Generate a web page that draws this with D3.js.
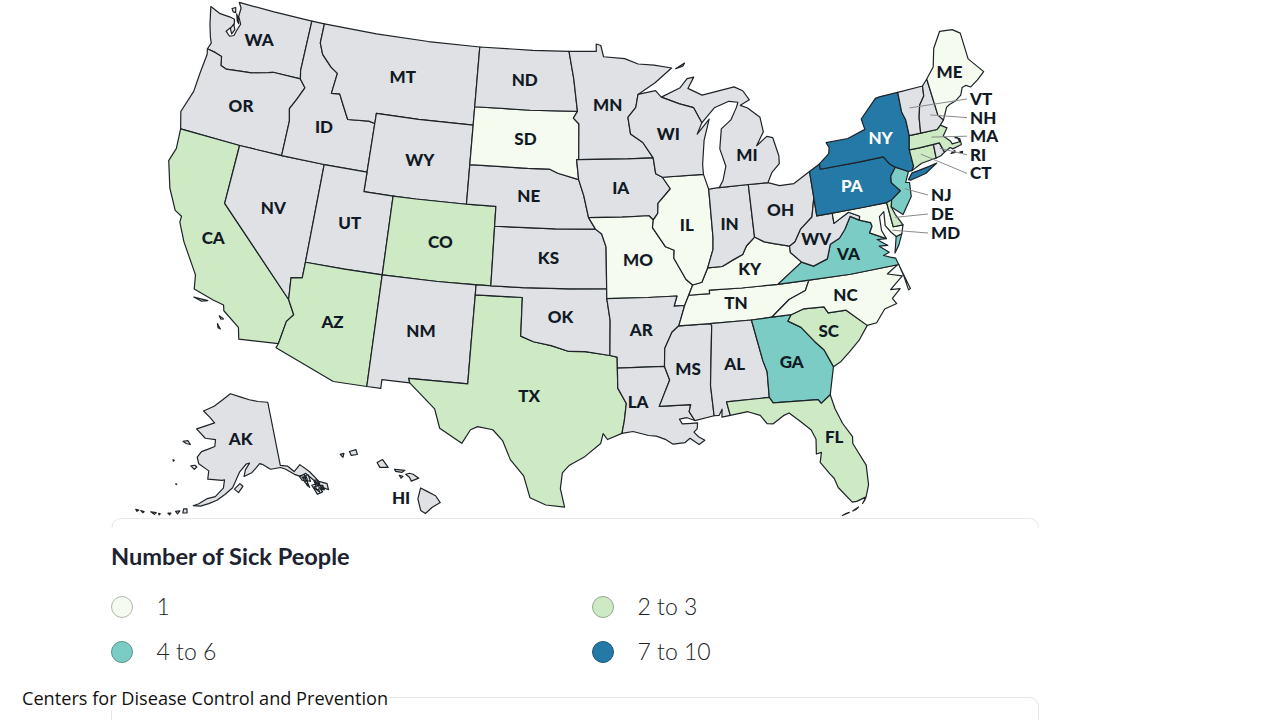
<!DOCTYPE html>
<html>
<head>
<meta charset="utf-8">
<style>
  html, body { margin: 0; padding: 0; background: #fff; overflow: hidden; }
</style>
<script src="https://unpkg.com/d3@7/dist/d3.min.js"></script>
</head>
<body>
<svg id="chart" width="1280" height="720"></svg>
<script>
// sick people per state, states missing from here have no cases
const count1 = ["ME", "SD", "MO", "IL", "KY", "TN", "NC", "MD"];
const count2to3 = ["CA", "AZ", "CO", "TX", "FL", "SC", "MA", "CT", "DE"];
const count4to6 = ["VA", "GA", "NJ"];
const count7to10 = ["NY", "PA"];

const legendLabels = ["1", "2 to 3", "4 to 6", "7 to 10"];
const legendColors = ["#f5fbef", "#cdeac5", "#7bccc4", "#2479a6"];
const noDataColor = "#dfe1e4";

// state outlines, lon/lat rings
const WA = [[[-122.75,49],[-120,49],[-117.03,49],[-117.04,46.42],[-116.92,45.99],[-118.98,46],[-119.3,45.93],[-120.5,45.7],[-121.2,45.65],[-122.33,45.55],[-122.76,45.65],[-122.9,46.1],[-123.4,46.2],[-124.05,46.27],[-123.9,46.6],[-124.1,46.9],[-124.4,47.5],[-124.73,48.38],[-123.9,48.17],[-123.1,48.15],[-122.75,48.1],[-122.65,47.85],[-123.1,47.4],[-122.75,47.2],[-122.45,47.3],[-122.35,47.6],[-122.2,47.95],[-122.5,48.3],[-122.5,48.75]],
  [[-122.7,48.4],[-122.5,48.05],[-122.35,47.95],[-122.55,48.25]],[[-123.15,48.6],[-122.9,48.7],[-122.8,48.45],[-123,48.45]],[[-122.7,47.85],[-122.5,47.6],[-122.65,47.35],[-122.85,47.6]]];
const OR = [[[-124.05,46.27],[-123.4,46.2],[-122.9,46.1],[-122.76,45.65],[-122.33,45.55],[-121.2,45.65],[-120.5,45.7],[-119.3,45.93],[-118.98,46],[-116.92,45.99],[-116.46,45.6],[-116.85,44.95],[-117.22,44.4],[-117.03,43.8],[-117.03,42],[-120,42],[-124.21,42],[-124.55,42.84],[-124.1,44],[-124.05,45],[-123.95,46]]];
const CA = [[[-124.21,42],[-120,42],[-120,39],[-114.63,35],[-114.14,34.3],[-114.5,33.9],[-114.72,32.72],[-117.12,32.53],[-117.3,33.1],[-118.4,33.75],[-118.5,34.03],[-119.2,34.15],[-120.5,34.45],[-120.65,35.15],[-121.9,36.6],[-122.5,37.5],[-122.5,37.8],[-123,38],[-123.75,39],[-124.35,40.3],[-124.1,41]],
  [[-120.4,34.05],[-119.5,34.05],[-119.9,33.95]],[[-118.6,33.45],[-118.3,33.35],[-118.45,33.3]],[[-118.6,33.05],[-118.35,32.82],[-118.5,32.85]]];
const NV = [[[-120,42],[-117.03,42],[-114.04,42],[-114.04,37],[-114.05,36.2],[-114.75,36.1],[-114.63,35],[-120,39]]];
const ID = [[[-117.03,49],[-116.05,49],[-116.05,48],[-115.7,47.45],[-114.9,46.9],[-114.35,46.65],[-114.5,45.6],[-113.9,45.65],[-113.45,45.05],[-113,44.45],[-111.5,44.55],[-111.05,44.48],[-111.05,42],[-114.04,42],[-117.03,42],[-117.03,43.8],[-117.22,44.4],[-116.85,44.95],[-116.46,45.6],[-116.92,45.99],[-117.04,46.42]]];
const MT = [[[-116.05,49],[-112,49],[-108,49],[-104.05,49],[-104.05,45.94],[-104.05,45],[-108,45],[-111.05,45],[-111.05,44.48],[-111.5,44.55],[-113,44.45],[-113.45,45.05],[-113.9,45.65],[-114.5,45.6],[-114.35,46.65],[-114.9,46.9],[-115.7,47.45],[-116.05,48]]];
const WY = [[[-111.05,45],[-108,45],[-104.05,45],[-104.05,43],[-104.05,41],[-107.5,41],[-109.05,41],[-111.05,41],[-111.05,42],[-111.05,44.48]]];
const UT = [[[-114.04,42],[-111.05,42],[-111.05,41],[-109.05,41],[-109.05,37],[-111.5,37],[-114.04,37]]];
const CO = [[[-109.05,41],[-107.5,41],[-104.05,41],[-102.05,41],[-102.05,40],[-102.05,37],[-105.5,37],[-109.05,37]]];
const AZ = [[[-114.04,37],[-111.5,37],[-109.05,37],[-109.05,31.33],[-111.07,31.33],[-114.81,32.5],[-114.72,32.72],[-114.5,33.9],[-114.14,34.3],[-114.63,35],[-114.75,36.1],[-114.05,36.2]]];
const NM = [[[-109.05,37],[-105.5,37],[-103,37],[-103,36.5],[-103.04,34],[-103.06,32],[-106.62,32],[-106.53,31.78],[-108.21,31.78],[-108.21,31.33],[-109.05,31.33]]];
const TX = [[[-103,36.5],[-100,36.5],[-100,34.56],[-99.2,34.3],[-98.1,34.13],[-97,33.85],[-96,33.85],[-94.48,33.64],[-94.04,33.55],[-94.04,33],[-94.04,31.99],[-93.55,31.2],[-93.7,30.3],[-93.85,29.7],[-94.7,29.4],[-94.95,29.7],[-95.1,29.2],[-96,28.55],[-96.9,28.1],[-97.3,27.7],[-97.4,26.9],[-97.15,25.96],[-98.2,26.05],[-99.1,26.4],[-99.5,27.5],[-100.3,28.3],[-100.8,29.25],[-101.4,29.77],[-102.3,29.88],[-102.7,29.7],[-103.15,28.98],[-104.5,29.65],[-104.9,30.6],[-106.53,31.78],[-106.62,32],[-103.06,32],[-103.04,34]]];
const OK = [[[-103,37],[-100,37],[-97,37],[-94.62,37],[-94.62,36.5],[-94.43,35.4],[-94.48,33.64],[-96,33.85],[-97,33.85],[-98.1,34.13],[-99.2,34.3],[-100,34.56],[-100,36.5],[-103,36.5]]];
const KS = [[[-102.05,40],[-98,40],[-95.31,40],[-94.9,39.75],[-94.62,39.1],[-94.62,37],[-97,37],[-100,37],[-102.05,37]]];
const NE = [[[-104.05,43],[-100,43],[-98.5,43],[-97.9,42.8],[-96.45,42.49],[-96.1,41.7],[-95.77,40.58],[-95.31,40],[-98,40],[-102.05,40],[-102.05,41],[-104.05,41]]];
const SD = [[[-104.05,45.94],[-100,45.94],[-96.56,45.94],[-96.85,45.6],[-96.45,45.3],[-96.45,43.5],[-96.6,43.5],[-96.45,42.49],[-97.9,42.8],[-98.5,43],[-100,43],[-104.05,43],[-104.05,45]]];
const ND = [[[-104.05,49],[-100,49],[-97.23,49],[-96.85,47.6],[-96.56,45.94],[-100,45.94],[-104.05,45.94]]];
const MN = [[[-97.23,49],[-95.15,49],[-95.15,49.38],[-94.8,49.3],[-94.6,48.72],[-93,48.6],[-92,48.3],[-90.8,48.2],[-89.5,48],[-90.8,47.3],[-92.1,46.75],[-92.3,46.1],[-92.9,45.6],[-92.75,44.75],[-91.9,44.3],[-91.22,43.5],[-93,43.5],[-96.45,43.5],[-96.45,45.3],[-96.85,45.6],[-96.56,45.94],[-96.85,47.6]]];
const IA = [[[-96.45,43.5],[-93,43.5],[-91.22,43.5],[-91.1,42.7],[-90.65,42.5],[-90.15,41.9],[-91.05,41.2],[-91.1,40.7],[-91.42,40.38],[-91.7,40.6],[-93.5,40.58],[-95.77,40.58],[-96.1,41.7],[-96.45,42.49],[-96.6,43.5]]];
const MO = [[[-95.77,40.58],[-93.5,40.58],[-91.7,40.6],[-91.42,40.38],[-91.5,40],[-90.7,39],[-90.15,38.8],[-90.2,38.4],[-89.5,37.3],[-89.1,37],[-89.4,36.5],[-89.7,36],[-90.37,36],[-90.15,36.5],[-92,36.5],[-94.62,36.5],[-94.62,37],[-94.62,39.1],[-94.9,39.75],[-95.31,40]]];
const AR = [[[-94.62,36.5],[-92,36.5],[-90.15,36.5],[-90.37,36],[-89.7,36],[-90.15,35],[-90.6,34.7],[-91.1,33.9],[-91.17,33],[-94.04,33],[-94.04,33.55],[-94.48,33.64],[-94.43,35.4]]];
const LA = [[[-94.04,33],[-91.17,33],[-90.9,32.3],[-91.6,31],[-89.73,31],[-89.85,30.65],[-89.55,30.18],[-90,30.35],[-90.45,30.3],[-90.3,30.05],[-89.75,30.05],[-89.4,30.05],[-89.45,29.75],[-89.65,29.6],[-89.4,29.35],[-89.05,29.15],[-89.4,28.95],[-89.9,29.3],[-90.2,29.1],[-90.9,29.05],[-91.3,29.3],[-91.85,29.5],[-92.3,29.55],[-93.2,29.78],[-93.85,29.7],[-93.7,30.3],[-93.55,31.2],[-94.04,31.99]]];
const MS = [[[-91.17,33],[-91.1,33.9],[-90.6,34.7],[-90.15,35],[-88.2,35],[-88.1,34.9],[-88.47,31.9],[-88.4,30.35],[-89.55,30.18],[-89.85,30.65],[-89.73,31],[-91.6,31],[-90.9,32.3]]];
const TN = [[[-89.4,36.5],[-88.07,36.5],[-88.07,36.68],[-86,36.63],[-83.68,36.6],[-81.68,36.59],[-82,36.1],[-83.1,35.77],[-84.32,35],[-85.6,34.98],[-88.2,35],[-90.15,35],[-89.7,36]]];
const KY = [[[-89.4,36.5],[-89.1,37],[-88.5,37.1],[-88.05,37.8],[-87.1,37.8],[-86.3,38.1],[-85.7,38.3],[-85.4,38.7],[-84.8,39.1],[-84.2,38.8],[-83.6,38.65],[-82.6,38.42],[-82.6,38.1],[-81.97,37.54],[-83.68,36.6],[-86,36.63],[-88.07,36.68],[-88.07,36.5]]];
const IL = [[[-90.65,42.5],[-87.8,42.5],[-87.53,41.72],[-87.53,39.3],[-87.6,38.7],[-88.05,37.8],[-88.5,37.1],[-89.1,37],[-89.5,37.3],[-90.2,38.4],[-90.15,38.8],[-90.7,39],[-91.5,40],[-91.42,40.38],[-91.1,40.7],[-91.05,41.2],[-90.15,41.9]]];
const IN = [[[-87.53,41.72],[-87.2,41.75],[-86.8,41.76],[-84.8,41.76],[-84.8,39.1],[-85.4,38.7],[-85.7,38.3],[-86.3,38.1],[-87.1,37.8],[-88.05,37.8],[-87.6,38.7],[-87.53,39.3]]];
const OH = [[[-84.8,41.76],[-83.45,41.73],[-82.7,41.5],[-81.7,41.5],[-80.52,41.98],[-80.52,40.64],[-80.85,39.7],[-81.7,39.2],[-82.2,38.6],[-82.6,38.42],[-83.6,38.65],[-84.2,38.8],[-84.8,39.1]]];
const MI = [[[-86.8,41.76],[-84.8,41.76],[-83.45,41.73],[-83.1,42.2],[-82.5,42.6],[-82.45,43],[-82.7,43.95],[-83.1,44.05],[-83.9,43.65],[-83.3,44.3],[-83.4,45.05],[-84.2,45.6],[-84.7,45.78],[-84,46],[-84.4,46.5],[-85,46.75],[-87.4,46.5],[-88.4,46.9],[-87.9,47.45],[-88.4,47.4],[-89,46.95],[-90.4,46.55],[-89.1,46.15],[-88.1,45.9],[-87.6,45.1],[-86.6,45.8],[-85.5,46.05],[-84.85,45.95],[-85,45.7],[-85.5,45.1],[-86.25,44.7],[-86.5,43.7],[-86.2,42.8],[-86.5,42.1]],
  [[-89.2,47.95],[-88.5,48.2],[-88.65,48.05]]];
const WI = [[[-92.1,46.75],[-90.8,46.9],[-90.4,46.55],[-89.1,46.15],[-88.1,45.9],[-87.6,45.1],[-88,44.55],[-87.05,45.25],[-87.55,44.2],[-87.8,43],[-87.8,42.5],[-90.65,42.5],[-91.1,42.7],[-91.22,43.5],[-91.9,44.3],[-92.75,44.75],[-92.9,45.6],[-92.3,46.1]]];
const AL = [[[-88.2,35],[-85.6,34.98],[-85.18,32.87],[-85,32.3],[-85.05,31],[-87.6,31],[-87.45,30.3],[-87.95,30.25],[-87.9,30.65],[-88.1,30.35],[-88.4,30.35],[-88.47,31.9],[-88.1,34.9]]];
const GA = [[[-85.6,34.98],[-84.32,35],[-83.1,35],[-83.35,34.7],[-82.6,34.3],[-81.9,33.5],[-81.4,33],[-81,32.1],[-81.2,31.5],[-81.45,30.72],[-82.05,30.36],[-82.2,30.57],[-84.86,30.7],[-85.05,31],[-85,32.3],[-85.18,32.87]]];
const FL = [[[-87.6,31],[-85.05,31],[-84.86,30.7],[-82.2,30.57],[-82.05,30.36],[-81.45,30.72],[-81.3,30],[-81,29.2],[-80.55,28.45],[-80.6,28.1],[-80.05,26.9],[-80.1,25.9],[-80.35,25.3],[-80.9,25.15],[-81.15,25.15],[-81.8,26],[-81.95,26.5],[-82.15,26.75],[-82.6,27.4],[-82.45,27.9],[-82.75,27.85],[-82.65,28.6],[-82.85,29.1],[-83.4,29.6],[-84,30.1],[-84.35,30],[-85,29.65],[-85.35,29.7],[-85.7,30.15],[-86.4,30.4],[-87.45,30.3]],
  [[-80.35,25.3],[-80.6,25],[-80.45,25.15]],[[-80.85,24.85],[-81.2,24.7],[-81,24.75]],[[-81.4,24.65],[-81.8,24.55],[-81.6,24.62]]];
const SC = [[[-83.1,35],[-82.3,35.2],[-81,35.15],[-80.8,34.82],[-79.67,34.8],[-78.55,33.86],[-79.2,33.2],[-79.9,32.7],[-80.5,32.3],[-81,32.1],[-81.4,33],[-81.9,33.5],[-82.6,34.3],[-83.35,34.7]]];
const NC = [[[-84.32,35],[-83.1,35.77],[-82,36.1],[-81.68,36.59],[-79,36.54],[-75.95,36.55],[-76.7,36.2],[-75.8,35.95],[-76.7,35.4],[-76.1,35.35],[-76.7,34.95],[-76.5,34.65],[-77.3,34.5],[-77.95,33.9],[-78.55,33.86],[-79.67,34.8],[-80.8,34.82],[-81,35.15],[-82.3,35.2],[-83.1,35]],
  [[-75.87,36.55],[-75.47,35.25],[-75.6,35.2],[-75.7,35.9]]];
const VA = [[[-83.68,36.6],[-81.97,37.54],[-81.25,37.25],[-80.3,37.5],[-79.95,38.2],[-79.3,38.42],[-78.85,38.8],[-78.35,39.4],[-77.8,39.13],[-77.1,38.9],[-77.05,38.7],[-77.3,38.4],[-76.3,37.95],[-76.9,38],[-76.3,37.6],[-76.85,37.65],[-76.3,37.25],[-76.7,37.15],[-76.3,37],[-75.98,36.9],[-75.87,36.55],[-79,36.54],[-81.68,36.59]],
  [[-75.95,37.15],[-75.65,37.95],[-75.25,38.03],[-75.6,37.5]]];
const WV = [[[-82.6,38.42],[-82.2,38.6],[-81.7,39.2],[-80.85,39.7],[-80.52,40.64],[-80.52,39.72],[-79.48,39.72],[-79.48,39.2],[-78.4,39.62],[-77.72,39.32],[-77.8,39.13],[-78.35,39.4],[-78.85,38.8],[-79.3,38.42],[-79.95,38.2],[-80.3,37.5],[-81.25,37.25],[-81.97,37.54],[-82.6,38.1]]];
const MD = [[[-79.48,39.72],[-75.79,39.72],[-75.7,38.46],[-75.05,38.45],[-75.25,38.03],[-75.65,37.95],[-75.9,38.2],[-76.2,38.6],[-76.1,39.3],[-76.45,39.1],[-76.5,38.4],[-76.3,37.95],[-77.3,38.4],[-77.05,38.7],[-77.1,38.9],[-77.8,39.13],[-77.72,39.32],[-78.4,39.62],[-79.48,39.2]]];
const DE = [[[-75.79,39.72],[-75.42,39.8],[-75.55,39.45],[-75.4,39.05],[-75.05,38.45],[-75.7,38.46]]];
const PA = [[[-80.52,41.98],[-79.76,42.27],[-79.76,42],[-77,42],[-75.35,42],[-75.05,41.6],[-74.7,41.36],[-75.13,40.98],[-75.2,40.65],[-74.72,40.15],[-75.42,39.8],[-75.79,39.72],[-77.5,39.72],[-79.48,39.72],[-80.52,39.72],[-80.52,40.64]]];
const NJ = [[[-74.7,41.36],[-73.9,41],[-74.25,40.5],[-74,40.45],[-74.1,39.75],[-74.9,38.95],[-75.55,39.45],[-75.42,39.8],[-74.72,40.15],[-75.2,40.65],[-75.13,40.98]]];
const NY = [[[-79.76,42.27],[-79,42.7],[-78.9,43],[-79.05,43.27],[-77.5,43.27],[-76.2,43.55],[-76.3,44.1],[-75,44.97],[-74.7,45],[-73.34,45.01],[-73.4,44],[-73.25,43.55],[-73.27,42.75],[-73.5,42.05],[-73.48,41.2],[-73.65,41],[-73.9,41],[-74.7,41.36],[-75.05,41.6],[-75.35,42],[-77,42],[-79.76,42]],
  [[-74.03,40.6],[-73.7,40.88],[-72.5,41],[-71.9,41.07],[-72.8,40.7],[-73.9,40.55]]];
const CT = [[[-73.5,42.05],[-72.8,42.03],[-71.8,42.02],[-71.85,41.32],[-72.9,41.25],[-73.65,41],[-73.48,41.2]]];
const RI = [[[-71.8,42.02],[-71.38,42.02],[-71.2,41.5],[-71.5,41.37],[-71.85,41.32]]];
const MA = [[[-73.27,42.75],[-72.46,42.73],[-71.3,42.7],[-71,42.87],[-70.6,42.65],[-71,42.3],[-70.6,41.95],[-70.55,41.8],[-70,41.8],[-70.1,42.05],[-70.25,42.07],[-69.95,41.95],[-69.95,41.65],[-70.6,41.55],[-70.75,41.65],[-71.2,41.5],[-71.38,42.02],[-71.8,42.02],[-72.8,42.03],[-73.5,42.05]],
  [[-70.8,41.35],[-70.5,41.45],[-70.5,41.35]],[[-70.2,41.3],[-70,41.3],[-70.05,41.22]]];
const VT = [[[-73.34,45.01],[-71.5,45.01],[-71.6,44.5],[-72.05,44.1],[-72.3,43.5],[-72.46,42.73],[-73.27,42.75],[-73.25,43.55],[-73.4,44]]];
const NH = [[[-71.5,45.01],[-71.08,45.3],[-70.98,43.4],[-70.7,43.07],[-71,42.87],[-71.3,42.7],[-72.46,42.73],[-72.3,43.5],[-72.05,44.1],[-71.6,44.5]]];
const ME = [[[-71.08,45.3],[-70.4,45.8],[-70,46.7],[-69.23,47.46],[-68.3,47.36],[-67.8,47.07],[-67.8,45.7],[-67,44.85],[-67.6,44.55],[-68.2,44.3],[-68.5,44.45],[-68.8,44.4],[-69.05,44.05],[-69.5,43.85],[-70,43.75],[-70.25,43.65],[-70.7,43.07],[-70.98,43.4]]];
const AK = [[[-141,69.65],[-145,70],[-148.5,70.4],[-152,70.85],[-156.6,71.35],[-160,70.3],[-163,69.3],[-166.8,68.35],[-164,67.6],[-162,66.9],[-164,66.5],[-168,65.6],[-164.5,64.5],[-161,64.5],[-161,63.5],[-163,63],[-165,62.5],[-166,61.6],[-165.2,60.7],[-162,59.9],[-162,58.7],[-158,58.7],[-157.3,58.8],[-157.5,57.6],[-159.5,56.3],[-161.5,55.9],[-163.5,55],[-164.8,54.6],[-163,54.7],[-161,55.2],[-159,55.8],[-157,56.7],[-155,57.7],[-154,58.9],[-153,60],[-151,61.1],[-150,61.2],[-151.3,60.3],[-151.8,59.3],[-149.5,59.8],[-148,60.5],[-147,61],[-146,60.8],[-144,60],[-141,60],[-139.7,59.6],[-137.6,58.6],[-136.2,58.1],[-134.5,58.3],[-133,57],[-131.8,55.8],[-130.2,55],[-130,55.9],[-131.8,56.6],[-133.4,58.4],[-135.4,59.75],[-137.5,59],[-139,60],[-141,60.3]],
  [[-167.4,60.2],[-166.2,60.4],[-165.6,60.2],[-166.2,59.8]],[[-171.5,63.4],[-170,63.65],[-168.9,63.2],[-170.3,63.2]],[[-172.9,60.45],[-172.5,60.4],[-172.7,60.25]],[[-170.4,57.2],[-170.1,57.2],[-170.2,57.1]],[[-154.5,57.5],[-153,58.3],[-152.2,57.9],[-153.4,57]],
  [[-136.5,58.2],[-135,58.2],[-135,57.2],[-136,57.5]],[[-135.8,57.9],[-135.3,57.9],[-135.4,57.5]],[[-134.7,58],[-134,58],[-133.9,57],[-134.6,57.2]],[[-135.5,57.2],[-134.8,57.2],[-134.6,56.2]],[[-135.2,56.9],[-134.95,56.8],[-135,56.5]],[[-133.9,56.4],[-132.6,56.4],[-131.8,55],[-133.2,54.9]],[[-133.6,56],[-133.1,56.1],[-133,55.5]],[[-133,55.5],[-132.5,55.6],[-132.5,55.1]],[[-133,57],[-132.1,56.9],[-132.1,56],[-132.9,56.1]],[[-132.9,56.7],[-132.5,56.7],[-132.5,56.3]],[[-132.2,56.5],[-131.8,56.4],[-131.9,56.1]],[[-131.8,56],[-131.2,55.9],[-131.2,55.2],[-131.9,55.4]],[[-131.7,55.7],[-131.4,55.7],[-131.5,55.4]],
  [[-167,53.9],[-166.2,54],[-166,53.4],[-167,53.3]],[[-168.8,53.3],[-167.8,53.5],[-168.2,53]],[[-170.5,52.8],[-169.8,52.9],[-170,52.6]],[[-172.6,52.4],[-172.2,52.4],[-172.4,52.2]],[[-174.5,52.3],[-173.2,52.4],[-173.5,52.1]],[[-176.8,52],[-176,52],[-176.2,51.8]],[[-178,51.9],[-177.3,51.95],[-177.6,51.7]]];
const HI = [[[-155.9,20.25],[-155.6,20.1],[-155.1,19.85],[-154.85,19.5],[-155.3,19.25],[-155.65,18.95],[-155.9,19.1],[-156.05,19.7]],[[-156.7,20.95],[-156.5,21],[-156.3,20.95],[-156,20.75],[-156.4,20.6],[-156.5,20.8]],[[-157.3,21.2],[-156.75,21.15],[-156.9,21.05],[-157.25,21.1]],[[-157.05,20.9],[-156.85,20.85],[-156.95,20.75]],[[-158.25,21.55],[-157.95,21.7],[-157.65,21.3],[-158.1,21.3]],[[-159.75,22.1],[-159.4,22.2],[-159.32,21.95],[-159.65,21.9]],[[-160.25,21.95],[-160.05,22],[-160.1,21.8]]];

const outlines = { WA, OR, CA, NV, ID, MT, WY, UT, CO, AZ, NM, TX, OK, KS, NE, SD, ND, MN, IA, MO, AR, LA, MS, TN, KY, IL, IN, OH, MI, WI, AL, GA, FL, SC, NC, VA, WV, MD, DE, PA, NJ, NY, CT, RI, MA, VT, NH, ME, AK, HI };

// label spots inside the states
const labelSpots = {
  WA: [-120.55,47.4], OR: [-120.6,43.95], CA: [-120.15,37.15], NV: [-116.8,39.35], ID: [-114.55,43.85], MT: [-109.55,47.05],
  WY: [-107.55,42.95], UT: [-111.65,39.35], CO: [-105.55,39.0], AZ: [-111.7,34.3], NM: [-106.2,34.45], ND: [-100.5,47.45],
  SD: [-100.25,44.45], NE: [-99.85,41.6], KS: [-98.4,38.5], OK: [-97.55,35.6], TX: [-99.35,31.55], MN: [-94.35,46.25],
  IA: [-93.55,42.05], MO: [-92.55,38.4], AR: [-92.5,34.9], LA: [-92.85,31.25], MS: [-89.75,32.8], AL: [-86.9,32.85],
  TN: [-86.45,35.9], KY: [-85.35,37.55], IL: [-89.2,40.0], IN: [-86.35,39.9], OH: [-82.85,40.3], MI: [-84.65,43.25],
  WI: [-90.05,44.65], GA: [-83.45,32.65], FL: [-81.6,28.55], SC: [-80.95,33.9], NC: [-79.55,35.55], VA: [-78.9,37.55],
  WV: [-80.8,38.55], PA: [-77.85,40.9], NY: [-75.25,42.95], ME: [-69.35,45.35], AK: [-152.5,64.7], HI: [-156.95,19.75]
};

// small states labelled outside the map, with the spot the leader line ends at
const calloutsRight = ["VT", "NH", "MA", "RI", "CT"];
const calloutsLower = ["NJ", "DE", "MD"];
const calloutEnds = {
  VT: [-72.8,44.1], NH: [-71.5,43.5], MA: [-71.8,42.4], RI: [-71.45,41.75], CT: [-72.8,41.7],
  NJ: [-74.4,40.2], DE: [-75.45,38.9], MD: [-75.8,38.3]
};

const colorOf = {};
[count1, count2to3, count4to6, count7to10].forEach((group, i) => group.forEach(s => colorOf[s] = legendColors[i]));

const projection = d3.geoAlbersUsa().scale(1130).translate([576, 255]);
const path = d3.geoPath(projection);

// rings can be in either winding, flip any that would cover the globe
function toFeature(id) {
  const polys = outlines[id].map(r => {
    const ring = r.concat([r[0]]);
    return d3.geoArea({ type: "Polygon", coordinates: [ring] }) > 2 * Math.PI ? [ring.slice().reverse()] : [ring];
  });
  return { type: "Feature", id, geometry: { type: "MultiPolygon", coordinates: polys } };
}

const svg = d3.select("#chart");

// upper card only shows its top edge and corners, the lower one keeps its sides
const cardTop = d3.path();
cardTop.moveTo(112, 528);
cardTop.arcTo(112, 518.5, 122, 518.5, 9);
cardTop.lineTo(1028, 518.5);
cardTop.arcTo(1038.5, 518.5, 1038.5, 528, 9);
svg.append("path").attr("d", cardTop.toString()).attr("fill", "none").attr("stroke", "#e8e8e8");
svg.append("rect").attr("x", 111.5).attr("y", 697.5).attr("width", 927).attr("height", 100).attr("rx", 9)
  .attr("fill", "#fff").attr("stroke", "#e6e6e6");

svg.append("g")
  .selectAll("path")
  .data(Object.keys(outlines).map(toFeature))
  .join("path")
  .attr("d", path)
  .attr("fill", d => colorOf[d.id] || noDataColor)
  .attr("stroke", "#1d2327")
  .attr("stroke-width", 1.2)
  .attr("stroke-linejoin", "round");

const callouts = calloutsRight.map((id, i) => ({ id, x: 970, y: 99 + i * 18.6 }))
  .concat(calloutsLower.map((id, i) => ({ id, x: 931, y: 195 + i * 19 })));

svg.append("g")
  .selectAll("line")
  .data(callouts)
  .join("line")
  .attr("x1", d => d.x - 3)
  .attr("y1", d => d.y)
  .attr("x2", d => projection(calloutEnds[d.id])[0])
  .attr("y2", d => projection(calloutEnds[d.id])[1])
  .attr("stroke", "#8a8a8a")
  .attr("stroke-width", 1);

function stateLabel(sel) {
  sel.attr("font-family", "Lato, 'Noto Sans', sans-serif")
    .attr("font-size", 17)
    .attr("font-weight", 900)
    .attr("dy", "0.35em")
    .text(d => d.id);
}

svg.append("g")
  .selectAll("text")
  .data(Object.keys(labelSpots).map(id => ({ id, p: projection(labelSpots[id]) || [401, 497] })))
  .join("text")
  .attr("x", d => d.p[0])
  .attr("y", d => d.p[1])
  .attr("text-anchor", "middle")
  .attr("fill", d => count7to10.includes(d.id) ? "#fff" : "#111a24")
  .call(stateLabel);

svg.append("g")
  .selectAll("text")
  .data(callouts)
  .join("text")
  .attr("x", d => d.x)
  .attr("y", d => d.y)
  .attr("fill", "#111a24")
  .call(stateLabel);

// legend
svg.append("text")
  .attr("x", 111).attr("y", 565)
  .attr("font-family", "Lato, sans-serif")
  .attr("font-size", 23.6)
  .attr("font-weight", 700)
  .attr("fill", "#1c2230")
  .text("Number of Sick People");

const legendX = d3.scalePoint().domain([0, 1]).range([122, 603]);
const legendY = d3.scalePoint().domain([0, 1]).range([607, 652]);

const legendItems = svg.append("g")
  .selectAll("g")
  .data(legendLabels)
  .join("g")
  .attr("transform", (d, i) => `translate(${legendX(i % 2)},${legendY(i >> 1)})`);

legendItems.append("circle")
  .attr("r", 10.5)
  .attr("fill", (d, i) => legendColors[i])
  .attr("stroke", (d, i) => d3.color(legendColors[i]).darker(0.9));

legendItems.append("text")
  .attr("x", 34.5)
  .attr("dy", "0.35em")
  .attr("font-family", "Lato, sans-serif")
  .attr("font-size", 23)
  .attr("font-weight", 300)
  .attr("fill", "#222")
  .text(d => d);

// source note sits on its own white box over the lower card
const source = svg.append("g");
source.append("rect").attr("x", 20).attr("y", 685).attr("width", 369).attr("height", 26).attr("fill", "#fff");
source.append("text")
  .attr("x", 22).attr("y", 705)
  .attr("font-family", "'Open Sans', sans-serif")
  .attr("font-size", 18.15)
  .attr("fill", "#111")
  .text("Centers for Disease Control and Prevention");
</script>
</body>
</html>
